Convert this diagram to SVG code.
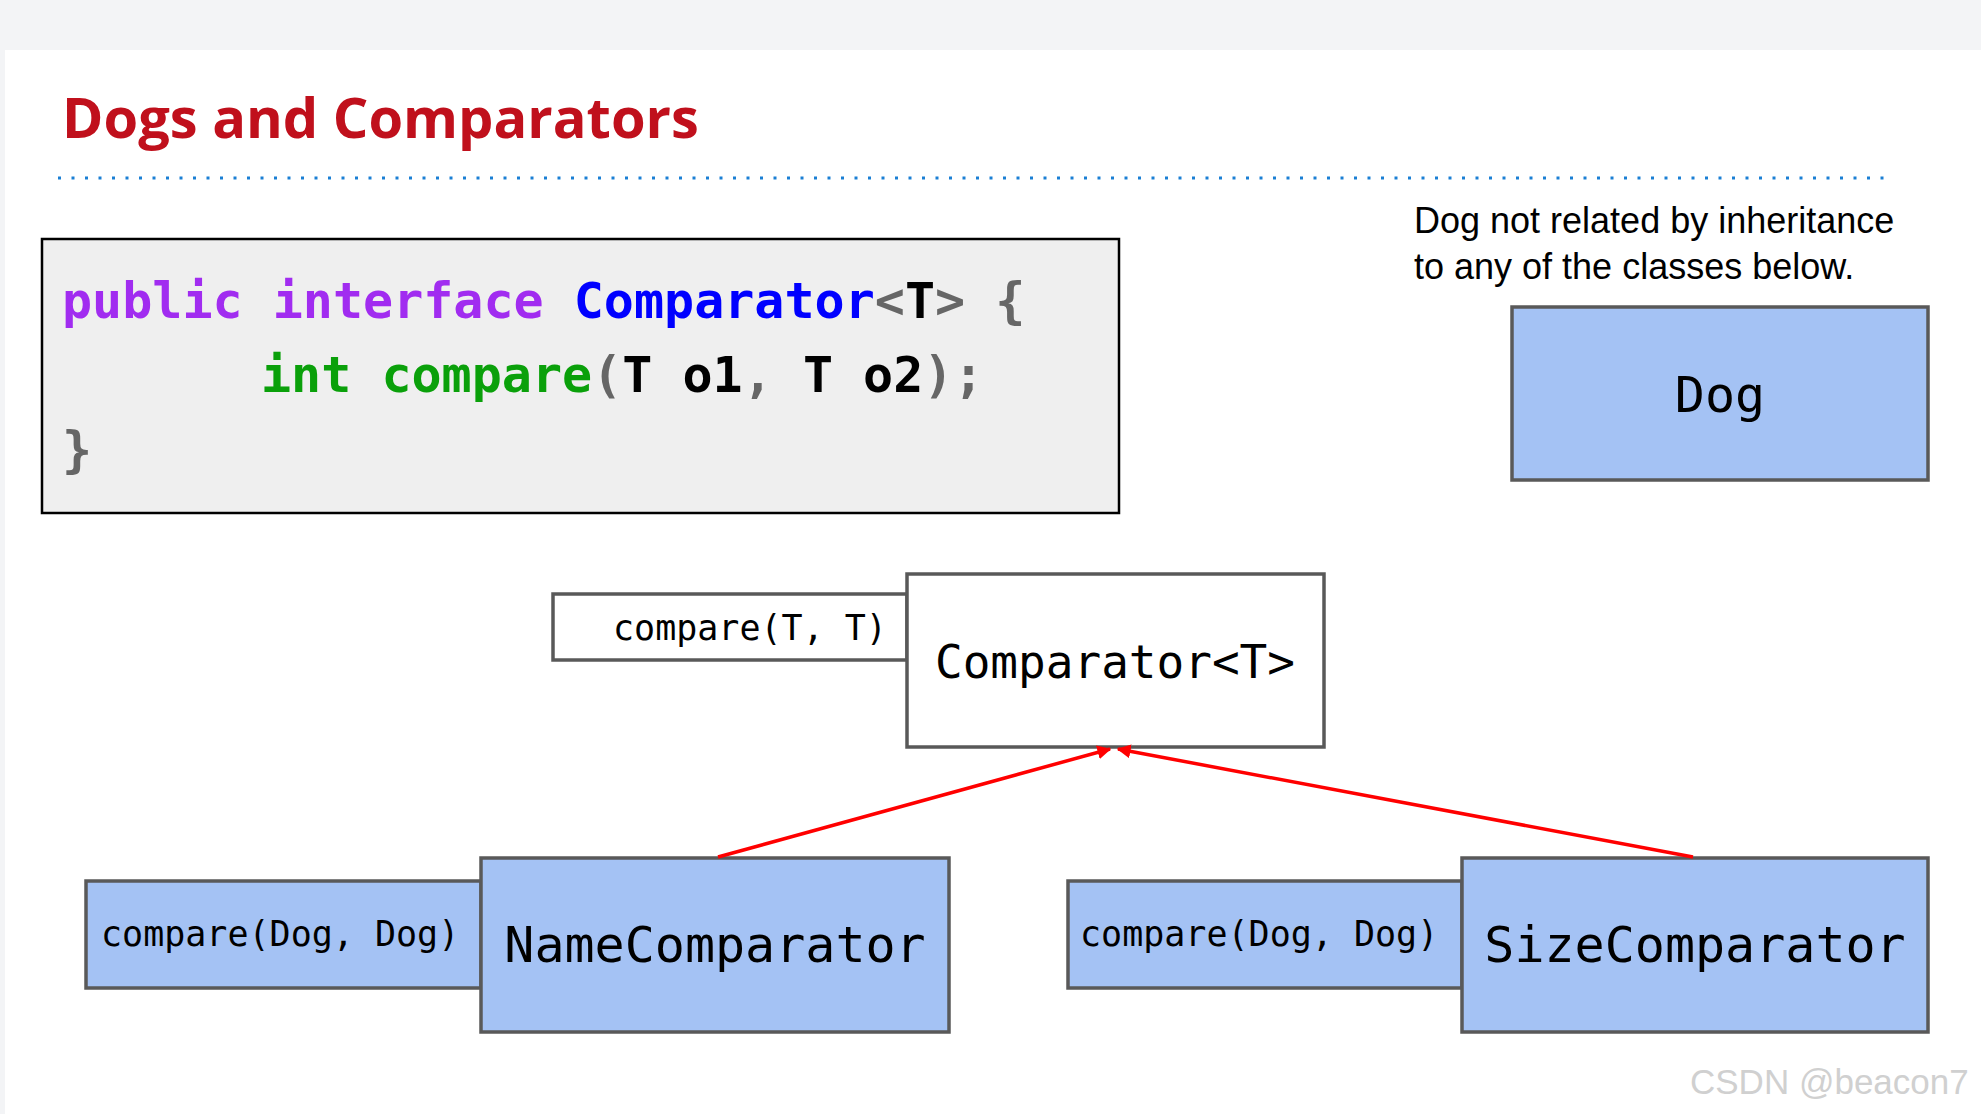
<svg xmlns="http://www.w3.org/2000/svg" width="1981" height="1114" viewBox="0 0 1981 1114">
<style>
.box{stroke:#595959;stroke-width:3.5}
.blue{fill:#a4c2f4}
.mono{font-family:"DejaVu Sans Mono","Liberation Mono",monospace;fill:#000}
.code{font-family:"DejaVu Sans Mono",monospace;font-weight:bold;font-size:50px}
.edge{stroke:#ff0000;stroke-width:3.5;fill:none;marker-end:url(#ah)}
</style>
<defs>
<marker id="ah" viewBox="0 0 10 10" refX="9" refY="5" markerWidth="4" markerHeight="4" orient="auto" markerUnits="strokeWidth"><path d="M0,0L10,5L0,10z" fill="#ff0000"/></marker>
</defs>
<rect width="1981" height="1114" fill="#f3f4f6"/>
<rect x="5" y="50" width="1976" height="1064" fill="#fff"/>
<g id="title"><text x="62" y="138" font-family="Open Sans,Liberation Sans,sans-serif" font-weight="bold" font-size="56" fill="#c0101c">Dogs and Comparators</text>
<line x1="58" y1="178" x2="1890" y2="178" stroke="#1a7fd4" stroke-width="3" stroke-dasharray="3,10.5"/></g>
<g id="code">
<rect x="42" y="239" width="1077" height="274" fill="#efefef" stroke="#000" stroke-width="2.5"/>
<text class="code" x="62" y="318"><tspan fill="#a12cf0">public interface </tspan><tspan fill="#0000ff">Comparator</tspan><tspan fill="#666">&lt;</tspan><tspan fill="#000">T</tspan><tspan fill="#666">&gt; {</tspan></text>
<text class="code" x="261" y="392"><tspan fill="#0aa00a">int compare</tspan><tspan fill="#666">(</tspan><tspan fill="#000">T o1</tspan><tspan fill="#666">, </tspan><tspan fill="#000">T o2</tspan><tspan fill="#666">);</tspan></text>
<text class="code" x="62" y="467" fill="#666">}</text>
</g>
<g id="note"><text font-family="Liberation Sans,Arial,sans-serif" font-size="36" fill="#000"><tspan x="1414" y="233">Dog not related by inheritance</tspan><tspan x="1414" y="279">to any of the classes below.</tspan></text></g>
<g id="dog"><rect class="box blue" x="1512" y="307" width="416" height="173"/><text class="mono" x="1720" y="412" font-size="50" text-anchor="middle">Dog</text></g>
<g id="comparator">
<rect class="box" fill="#fff" x="553" y="594" width="354" height="66"/>
<text class="mono" x="613" y="640" font-size="35">compare(T, T)</text>
<rect class="box" fill="#fff" x="907" y="574" width="417" height="173"/>
<text class="mono" x="1115" y="678" font-size="46" text-anchor="middle">Comparator&lt;T&gt;</text>
</g>
<g id="nameComparator">
<rect class="box blue" x="86" y="881" width="395" height="107"/>
<text class="mono" x="101" y="946" font-size="35">compare(Dog, Dog)</text>
<rect class="box blue" x="481" y="858" width="468" height="174"/>
<text class="mono" x="715" y="962" font-size="50" text-anchor="middle">NameComparator</text>
</g>
<g id="sizeComparator">
<rect class="box blue" x="1068" y="881" width="394" height="107"/>
<text class="mono" x="1080" y="946" font-size="35">compare(Dog, Dog)</text>
<rect class="box blue" x="1462" y="858" width="466" height="174"/>
<text class="mono" x="1695" y="962" font-size="50" text-anchor="middle">SizeComparator</text>
</g>
<g id="connectors">
<line class="edge" x1="718" y1="857" x2="1110" y2="749"/>
<line class="edge" x1="1693" y1="857" x2="1118" y2="749"/>
</g>
<text x="1690" y="1094" font-family="Liberation Sans,Arial,sans-serif" font-size="35" fill="#d0d0d0">CSDN @beacon7</text>
</svg>
